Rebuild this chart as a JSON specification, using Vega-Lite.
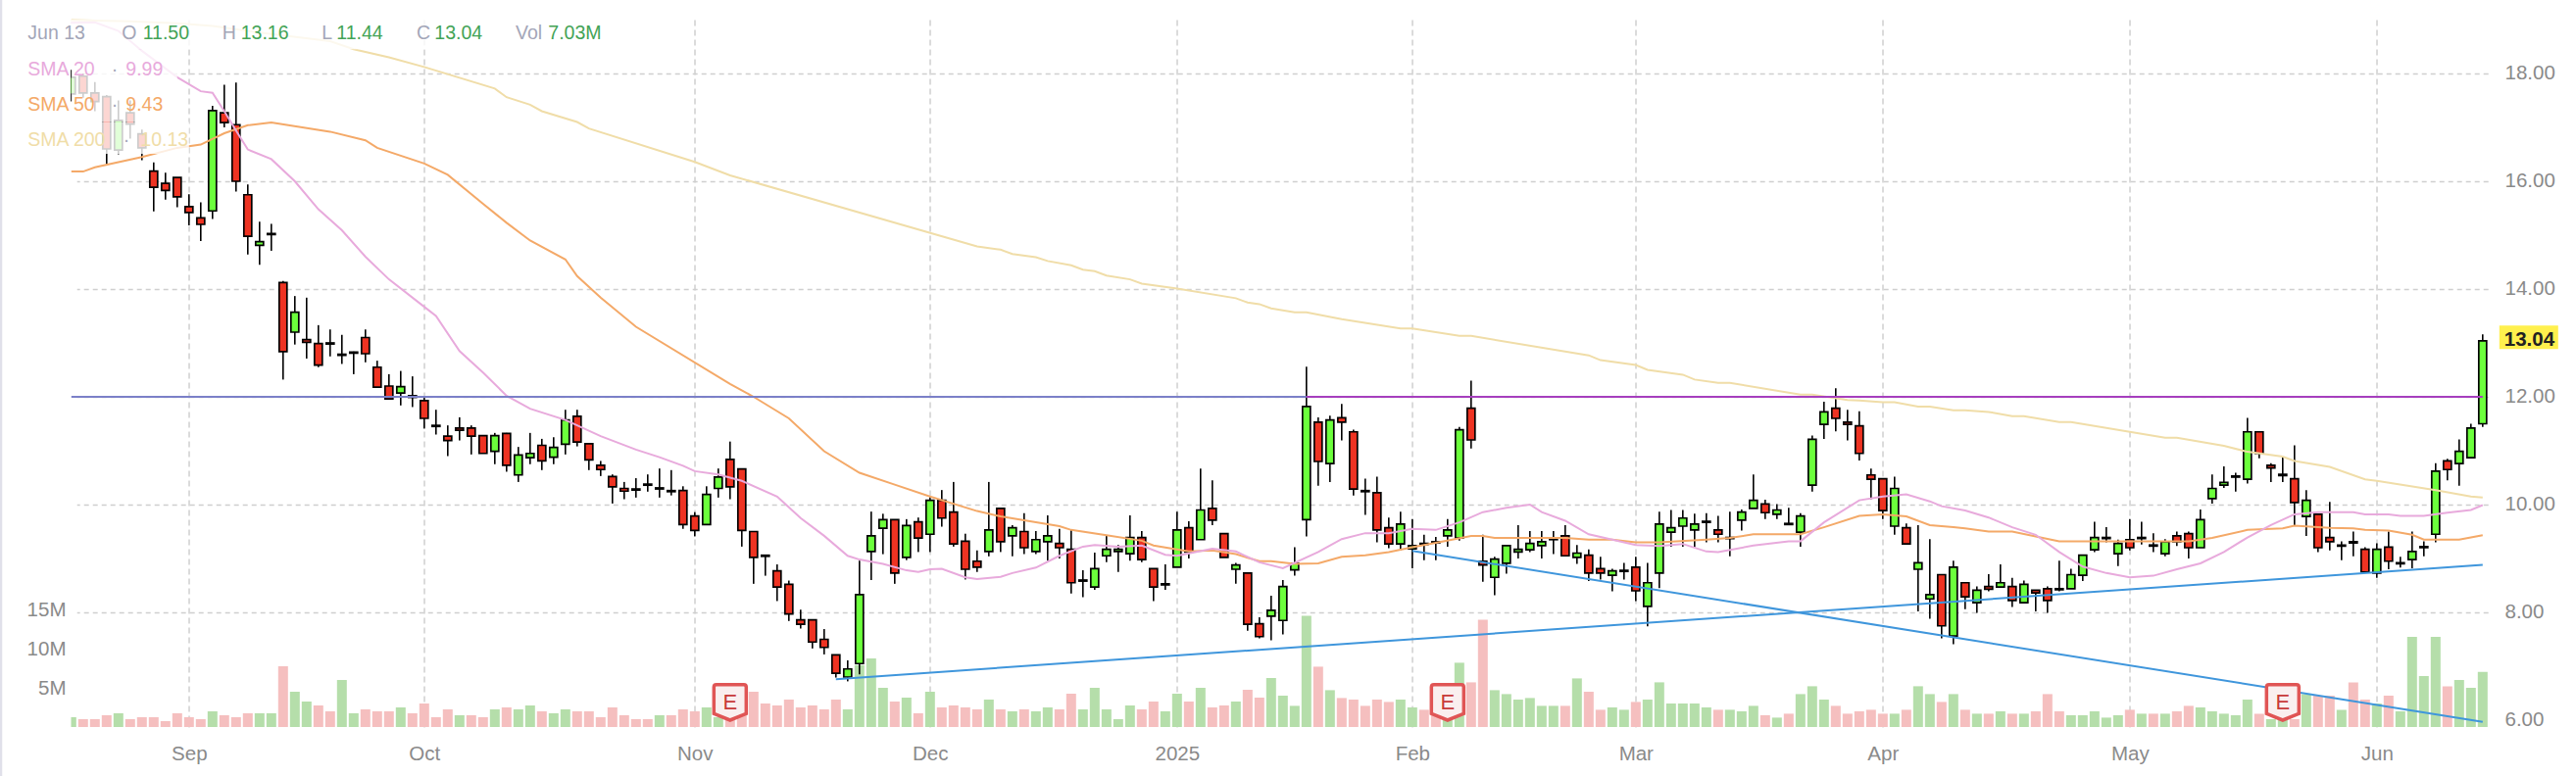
{
"$schema":"https://vega.github.io/schema/vega-lite/v6.json",
"width":2466,"height":722,
"autosize":{"type":"none"},
"padding":{"left":72.5,"top":20,"right":89.5,"bottom":50},
"background":"white",
"config":{"view":{"stroke":null},"font":"Liberation Sans","text":{"align":"left","baseline":"middle","fontSize":19.5}},
"datasets":{
"ohlc":[
{"d":"2024-08-19","o":17.62,"h":18.07,"l":17.48,"c":17.93,"v":1.25,"vd":"u"},
{"d":"2024-08-20","o":17.95,"h":18.0,"l":17.55,"c":17.64,"v":1.0,"vd":"d"},
{"d":"2024-08-21","o":17.64,"h":17.84,"l":17.3,"c":17.48,"v":1.0,"vd":"d"},
{"d":"2024-08-22","o":17.57,"h":17.6,"l":16.32,"c":16.6,"v":1.5,"vd":"d"},
{"d":"2024-08-23","o":16.58,"h":17.5,"l":16.5,"c":17.13,"v":1.75,"vd":"u"},
{"d":"2024-08-26","o":17.27,"h":17.5,"l":16.79,"c":17.06,"v":1.0,"vd":"d"},
{"d":"2024-08-27","o":16.88,"h":16.96,"l":16.39,"c":16.62,"v":1.25,"vd":"d"},
{"d":"2024-08-28","o":16.19,"h":16.35,"l":15.44,"c":15.89,"v":1.25,"vd":"d"},
{"d":"2024-08-29","o":15.96,"h":16.16,"l":15.66,"c":15.83,"v":0.75,"vd":"d"},
{"d":"2024-08-30","o":16.07,"h":16.07,"l":15.52,"c":15.71,"v":1.75,"vd":"d"},
{"d":"2024-09-03","o":15.53,"h":15.76,"l":15.18,"c":15.42,"v":1.25,"vd":"d"},
{"d":"2024-09-04","o":15.32,"h":15.61,"l":14.89,"c":15.2,"v":1.0,"vd":"d"},
{"d":"2024-09-05","o":15.45,"h":17.4,"l":15.3,"c":17.31,"v":2.0,"vd":"u"},
{"d":"2024-09-06","o":17.27,"h":17.79,"l":17.0,"c":17.09,"v":1.5,"vd":"d"},
{"d":"2024-09-09","o":17.05,"h":17.83,"l":15.81,"c":16.0,"v":1.25,"vd":"d"},
{"d":"2024-09-10","o":15.75,"h":15.94,"l":14.64,"c":14.98,"v":1.75,"vd":"d"},
{"d":"2024-09-11","o":14.81,"h":15.25,"l":14.45,"c":14.88,"v":1.75,"vd":"u"},
{"d":"2024-09-12","o":15.01,"h":15.21,"l":14.71,"c":15.03,"v":1.75,"vd":"u"},
{"d":"2024-09-13","o":14.12,"h":14.15,"l":12.32,"c":12.84,"v":7.75,"vd":"d"},
{"d":"2024-09-16","o":13.2,"h":13.87,"l":12.97,"c":13.57,"v":4.5,"vd":"u"},
{"d":"2024-09-17","o":13.06,"h":13.84,"l":12.71,"c":13.01,"v":3.25,"vd":"u"},
{"d":"2024-09-18","o":12.99,"h":13.33,"l":12.55,"c":12.59,"v":2.75,"vd":"d"},
{"d":"2024-09-19","o":12.98,"h":13.25,"l":12.75,"c":13.0,"v":2.0,"vd":"d"},
{"d":"2024-09-20","o":12.77,"h":13.15,"l":12.61,"c":12.79,"v":6.0,"vd":"u"},
{"d":"2024-09-23","o":12.81,"h":12.84,"l":12.42,"c":12.83,"v":1.75,"vd":"u"},
{"d":"2024-09-24","o":13.1,"h":13.25,"l":12.64,"c":12.8,"v":2.25,"vd":"d"},
{"d":"2024-09-25","o":12.55,"h":12.67,"l":12.18,"c":12.18,"v":2.0,"vd":"d"},
{"d":"2024-09-26","o":12.2,"h":12.42,"l":11.96,"c":11.96,"v":2.0,"vd":"d"},
{"d":"2024-09-27","o":12.07,"h":12.48,"l":11.84,"c":12.19,"v":2.5,"vd":"u"},
{"d":"2024-09-30","o":12.02,"h":12.38,"l":11.81,"c":11.99,"v":1.75,"vd":"d"},
{"d":"2024-10-01","o":11.93,"h":12.0,"l":11.41,"c":11.6,"v":3.0,"vd":"d"},
{"d":"2024-10-02","o":11.45,"h":11.76,"l":11.3,"c":11.47,"v":1.25,"vd":"d"},
{"d":"2024-10-03","o":11.27,"h":11.47,"l":10.9,"c":11.19,"v":2.25,"vd":"d"},
{"d":"2024-10-04","o":11.42,"h":11.62,"l":11.19,"c":11.38,"v":1.5,"vd":"u"},
{"d":"2024-10-07","o":11.42,"h":11.47,"l":10.93,"c":11.27,"v":1.5,"vd":"d"},
{"d":"2024-10-08","o":11.28,"h":11.28,"l":10.95,"c":10.95,"v":1.25,"vd":"d"},
{"d":"2024-10-09","o":10.99,"h":11.33,"l":10.75,"c":11.28,"v":2.25,"vd":"u"},
{"d":"2024-10-10","o":11.32,"h":11.33,"l":10.61,"c":10.73,"v":2.5,"vd":"d"},
{"d":"2024-10-11","o":10.55,"h":11.07,"l":10.42,"c":10.92,"v":2.25,"vd":"u"},
{"d":"2024-10-14","o":10.87,"h":11.33,"l":10.75,"c":10.95,"v":2.75,"vd":"u"},
{"d":"2024-10-15","o":11.1,"h":11.22,"l":10.64,"c":10.81,"v":2.0,"vd":"d"},
{"d":"2024-10-16","o":10.88,"h":11.25,"l":10.75,"c":11.06,"v":1.75,"vd":"u"},
{"d":"2024-10-17","o":11.12,"h":11.76,"l":10.93,"c":11.57,"v":2.25,"vd":"u"},
{"d":"2024-10-18","o":11.64,"h":11.76,"l":11.08,"c":11.16,"v":2.0,"vd":"d"},
{"d":"2024-10-21","o":11.13,"h":11.13,"l":10.64,"c":10.83,"v":2.0,"vd":"d"},
{"d":"2024-10-22","o":10.73,"h":10.81,"l":10.53,"c":10.65,"v":1.25,"vd":"d"},
{"d":"2024-10-23","o":10.52,"h":10.56,"l":10.02,"c":10.33,"v":2.5,"vd":"d"},
{"d":"2024-10-24","o":10.3,"h":10.42,"l":10.1,"c":10.25,"v":1.5,"vd":"d"},
{"d":"2024-10-25","o":10.29,"h":10.49,"l":10.13,"c":10.27,"v":1.0,"vd":"d"},
{"d":"2024-10-28","o":10.36,"h":10.56,"l":10.24,"c":10.38,"v":1.0,"vd":"d"},
{"d":"2024-10-29","o":10.29,"h":10.67,"l":10.13,"c":10.31,"v":1.5,"vd":"u"},
{"d":"2024-10-30","o":10.26,"h":10.64,"l":10.17,"c":10.24,"v":1.5,"vd":"d"},
{"d":"2024-10-31","o":10.26,"h":10.34,"l":9.55,"c":9.63,"v":2.25,"vd":"d"},
{"d":"2024-11-01","o":9.79,"h":9.86,"l":9.41,"c":9.52,"v":2.0,"vd":"d"},
{"d":"2024-11-04","o":9.63,"h":10.34,"l":9.63,"c":10.19,"v":2.5,"vd":"u"},
{"d":"2024-11-05","o":10.3,"h":10.67,"l":10.13,"c":10.51,"v":1.25,"vd":"u"},
{"d":"2024-11-06","o":10.84,"h":11.17,"l":10.1,"c":10.33,"v":1.5,"vd":"d"},
{"d":"2024-11-07","o":10.66,"h":10.66,"l":9.22,"c":9.52,"v":1.5,"vd":"d"},
{"d":"2024-11-08","o":9.5,"h":9.5,"l":8.53,"c":9.02,"v":4.5,"vd":"d"},
{"d":"2024-11-11","o":9.06,"h":9.06,"l":8.68,"c":9.04,"v":3.0,"vd":"d"},
{"d":"2024-11-12","o":8.77,"h":8.89,"l":8.21,"c":8.47,"v":2.75,"vd":"d"},
{"d":"2024-11-13","o":8.52,"h":8.59,"l":7.84,"c":7.97,"v":3.5,"vd":"d"},
{"d":"2024-11-14","o":7.86,"h":8.05,"l":7.7,"c":7.78,"v":2.5,"vd":"d"},
{"d":"2024-11-15","o":7.86,"h":7.86,"l":7.33,"c":7.45,"v":2.75,"vd":"d"},
{"d":"2024-11-18","o":7.5,"h":7.69,"l":7.22,"c":7.35,"v":2.25,"vd":"d"},
{"d":"2024-11-19","o":7.21,"h":7.21,"l":6.79,"c":6.87,"v":3.5,"vd":"d"},
{"d":"2024-11-20","o":6.8,"h":7.11,"l":6.72,"c":6.95,"v":2.25,"vd":"u"},
{"d":"2024-11-21","o":7.05,"h":8.96,"l":6.85,"c":8.33,"v":7.9,"vd":"u"},
{"d":"2024-11-22","o":9.13,"h":9.87,"l":8.6,"c":9.42,"v":8.75,"vd":"u"},
{"d":"2024-11-25","o":9.56,"h":9.83,"l":9.08,"c":9.72,"v":5.0,"vd":"u"},
{"d":"2024-11-26","o":9.72,"h":9.72,"l":8.53,"c":8.73,"v":3.25,"vd":"d"},
{"d":"2024-11-27","o":9.02,"h":9.73,"l":8.97,"c":9.61,"v":3.75,"vd":"u"},
{"d":"2024-11-29","o":9.68,"h":9.76,"l":9.12,"c":9.38,"v":1.75,"vd":"d"},
{"d":"2024-12-02","o":9.45,"h":10.14,"l":9.12,"c":10.08,"v":4.5,"vd":"u"},
{"d":"2024-12-03","o":10.08,"h":10.27,"l":9.59,"c":9.75,"v":2.5,"vd":"d"},
{"d":"2024-12-04","o":9.86,"h":10.42,"l":9.22,"c":9.27,"v":2.75,"vd":"d"},
{"d":"2024-12-05","o":9.32,"h":9.46,"l":8.61,"c":8.8,"v":2.5,"vd":"d"},
{"d":"2024-12-06","o":8.95,"h":9.15,"l":8.75,"c":8.84,"v":2.25,"vd":"d"},
{"d":"2024-12-09","o":9.13,"h":10.42,"l":9.04,"c":9.53,"v":3.5,"vd":"u"},
{"d":"2024-12-10","o":9.93,"h":9.93,"l":9.12,"c":9.31,"v":2.25,"vd":"d"},
{"d":"2024-12-11","o":9.42,"h":9.62,"l":9.04,"c":9.57,"v":2.0,"vd":"u"},
{"d":"2024-12-12","o":9.5,"h":9.84,"l":9.08,"c":9.2,"v":2.25,"vd":"d"},
{"d":"2024-12-13","o":9.13,"h":9.51,"l":9.08,"c":9.35,"v":2.0,"vd":"u"},
{"d":"2024-12-16","o":9.31,"h":9.8,"l":8.96,"c":9.42,"v":2.5,"vd":"u"},
{"d":"2024-12-17","o":9.28,"h":9.55,"l":9.0,"c":9.2,"v":2.25,"vd":"d"},
{"d":"2024-12-18","o":9.17,"h":9.53,"l":8.35,"c":8.55,"v":4.25,"vd":"d"},
{"d":"2024-12-19","o":8.58,"h":8.78,"l":8.28,"c":8.6,"v":2.25,"vd":"u"},
{"d":"2024-12-20","o":8.47,"h":9.11,"l":8.42,"c":8.81,"v":5.0,"vd":"u"},
{"d":"2024-12-23","o":9.05,"h":9.42,"l":8.93,"c":9.17,"v":2.25,"vd":"u"},
{"d":"2024-12-24","o":9.13,"h":9.25,"l":8.75,"c":9.17,"v":1.0,"vd":"u"},
{"d":"2024-12-26","o":9.09,"h":9.8,"l":8.96,"c":9.39,"v":2.75,"vd":"u"},
{"d":"2024-12-27","o":9.39,"h":9.51,"l":8.93,"c":8.98,"v":2.25,"vd":"d"},
{"d":"2024-12-30","o":8.81,"h":8.81,"l":8.21,"c":8.47,"v":3.25,"vd":"d"},
{"d":"2024-12-31","o":8.51,"h":8.89,"l":8.42,"c":8.53,"v":2.0,"vd":"u"},
{"d":"2025-01-02","o":8.84,"h":9.87,"l":8.84,"c":9.53,"v":4.25,"vd":"u"},
{"d":"2025-01-03","o":9.57,"h":9.69,"l":9.0,"c":9.12,"v":3.25,"vd":"d"},
{"d":"2025-01-06","o":9.35,"h":10.67,"l":9.35,"c":9.9,"v":5.0,"vd":"u"},
{"d":"2025-01-07","o":9.93,"h":10.45,"l":9.62,"c":9.71,"v":2.5,"vd":"d"},
{"d":"2025-01-08","o":9.46,"h":9.46,"l":9.02,"c":9.02,"v":2.75,"vd":"d"},
{"d":"2025-01-10","o":8.8,"h":8.92,"l":8.53,"c":8.88,"v":3.25,"vd":"u"},
{"d":"2025-01-13","o":8.73,"h":8.73,"l":7.66,"c":7.78,"v":4.75,"vd":"d"},
{"d":"2025-01-14","o":7.79,"h":7.91,"l":7.52,"c":7.55,"v":3.75,"vd":"d"},
{"d":"2025-01-15","o":7.93,"h":8.31,"l":7.48,"c":8.04,"v":6.25,"vd":"u"},
{"d":"2025-01-16","o":7.85,"h":8.6,"l":7.59,"c":8.48,"v":4.0,"vd":"u"},
{"d":"2025-01-17","o":8.79,"h":9.21,"l":8.68,"c":8.91,"v":2.7,"vd":"u"},
{"d":"2025-01-21","o":9.72,"h":12.56,"l":9.41,"c":11.82,"v":14.2,"vd":"u"},
{"d":"2025-01-22","o":11.53,"h":11.62,"l":10.35,"c":10.8,"v":7.7,"vd":"d"},
{"d":"2025-01-23","o":10.76,"h":11.65,"l":10.42,"c":11.57,"v":4.7,"vd":"u"},
{"d":"2025-01-24","o":11.61,"h":11.87,"l":11.19,"c":11.53,"v":3.7,"vd":"d"},
{"d":"2025-01-27","o":11.35,"h":11.39,"l":10.17,"c":10.29,"v":3.5,"vd":"d"},
{"d":"2025-01-28","o":10.24,"h":10.48,"l":9.81,"c":10.26,"v":2.7,"vd":"d"},
{"d":"2025-01-29","o":10.22,"h":10.52,"l":9.3,"c":9.53,"v":3.5,"vd":"d"},
{"d":"2025-01-30","o":9.57,"h":9.76,"l":9.19,"c":9.27,"v":3.2,"vd":"d"},
{"d":"2025-01-31","o":9.27,"h":9.87,"l":9.15,"c":9.64,"v":3.5,"vd":"u"},
{"d":"2025-02-03","o":9.18,"h":9.73,"l":8.82,"c":9.24,"v":2.5,"vd":"u"},
{"d":"2025-02-04","o":9.26,"h":9.44,"l":8.97,"c":9.28,"v":2.2,"vd":"d"},
{"d":"2025-02-05","o":9.29,"h":9.4,"l":8.97,"c":9.31,"v":1.7,"vd":"d"},
{"d":"2025-02-06","o":9.42,"h":9.73,"l":9.22,"c":9.53,"v":1.2,"vd":"u"},
{"d":"2025-02-07","o":9.38,"h":11.44,"l":9.33,"c":11.39,"v":8.2,"vd":"u"},
{"d":"2025-02-10","o":11.79,"h":12.3,"l":11.04,"c":11.2,"v":5.7,"vd":"d"},
{"d":"2025-02-11","o":8.95,"h":9.44,"l":8.57,"c":8.88,"v":13.7,"vd":"d"},
{"d":"2025-02-12","o":8.65,"h":9.03,"l":8.32,"c":8.99,"v":4.7,"vd":"u"},
{"d":"2025-02-13","o":8.91,"h":9.24,"l":8.72,"c":9.24,"v":4.2,"vd":"u"},
{"d":"2025-02-14","o":9.12,"h":9.62,"l":9.0,"c":9.17,"v":3.5,"vd":"u"},
{"d":"2025-02-18","o":9.16,"h":9.51,"l":9.12,"c":9.28,"v":3.7,"vd":"u"},
{"d":"2025-02-19","o":9.24,"h":9.51,"l":9.0,"c":9.31,"v":2.7,"vd":"u"},
{"d":"2025-02-20","o":9.35,"h":9.51,"l":9.08,"c":9.37,"v":2.7,"vd":"u"},
{"d":"2025-02-21","o":9.42,"h":9.62,"l":9.05,"c":9.05,"v":2.7,"vd":"d"},
{"d":"2025-02-24","o":9.02,"h":9.25,"l":8.9,"c":9.1,"v":6.2,"vd":"u"},
{"d":"2025-02-25","o":9.06,"h":9.17,"l":8.58,"c":8.73,"v":4.5,"vd":"d"},
{"d":"2025-02-26","o":8.81,"h":9.03,"l":8.61,"c":8.73,"v":2.2,"vd":"d"},
{"d":"2025-02-27","o":8.69,"h":8.81,"l":8.39,"c":8.77,"v":2.5,"vd":"u"},
{"d":"2025-02-28","o":8.76,"h":8.92,"l":8.61,"c":8.78,"v":2.2,"vd":"u"},
{"d":"2025-03-03","o":8.84,"h":9.03,"l":8.21,"c":8.4,"v":3.2,"vd":"d"},
{"d":"2025-03-04","o":8.11,"h":8.92,"l":7.74,"c":8.55,"v":3.5,"vd":"u"},
{"d":"2025-03-05","o":8.73,"h":9.87,"l":8.45,"c":9.64,"v":5.7,"vd":"u"},
{"d":"2025-03-06","o":9.49,"h":9.9,"l":9.22,"c":9.57,"v":3.0,"vd":"u"},
{"d":"2025-03-07","o":9.6,"h":9.9,"l":9.22,"c":9.75,"v":3.0,"vd":"u"},
{"d":"2025-03-10","o":9.53,"h":9.83,"l":9.21,"c":9.64,"v":3.0,"vd":"u"},
{"d":"2025-03-11","o":9.67,"h":9.84,"l":9.3,"c":9.69,"v":2.5,"vd":"u"},
{"d":"2025-03-12","o":9.53,"h":9.79,"l":9.3,"c":9.45,"v":2.2,"vd":"d"},
{"d":"2025-03-13","o":9.37,"h":9.87,"l":9.04,"c":9.39,"v":2.2,"vd":"u"},
{"d":"2025-03-14","o":9.71,"h":9.91,"l":9.52,"c":9.86,"v":2.0,"vd":"u"},
{"d":"2025-03-17","o":9.93,"h":10.56,"l":9.93,"c":10.08,"v":2.7,"vd":"u"},
{"d":"2025-03-18","o":10.01,"h":10.09,"l":9.73,"c":9.85,"v":1.5,"vd":"d"},
{"d":"2025-03-19","o":9.82,"h":10.01,"l":9.73,"c":9.9,"v":1.2,"vd":"u"},
{"d":"2025-03-20","o":9.65,"h":9.94,"l":9.64,"c":9.63,"v":1.7,"vd":"d"},
{"d":"2025-03-21","o":9.49,"h":9.84,"l":9.22,"c":9.79,"v":4.2,"vd":"u"},
{"d":"2025-03-24","o":10.36,"h":11.28,"l":10.24,"c":11.21,"v":5.2,"vd":"u"},
{"d":"2025-03-25","o":11.49,"h":11.91,"l":11.22,"c":11.72,"v":3.5,"vd":"u"},
{"d":"2025-03-26","o":11.79,"h":12.16,"l":11.36,"c":11.6,"v":2.7,"vd":"d"},
{"d":"2025-03-27","o":11.53,"h":11.76,"l":11.19,"c":11.49,"v":1.7,"vd":"d"},
{"d":"2025-03-28","o":11.46,"h":11.73,"l":10.82,"c":10.95,"v":2.0,"vd":"d"},
{"d":"2025-03-31","o":10.55,"h":10.67,"l":10.1,"c":10.47,"v":2.2,"vd":"d"},
{"d":"2025-04-01","o":10.48,"h":10.48,"l":9.73,"c":9.89,"v":1.7,"vd":"d"},
{"d":"2025-04-02","o":9.6,"h":10.52,"l":9.44,"c":10.3,"v":1.7,"vd":"u"},
{"d":"2025-04-03","o":9.57,"h":9.65,"l":9.27,"c":9.27,"v":2.2,"vd":"d"},
{"d":"2025-04-04","o":8.8,"h":9.62,"l":8.02,"c":8.92,"v":5.2,"vd":"u"},
{"d":"2025-04-07","o":8.25,"h":9.36,"l":7.88,"c":8.33,"v":4.2,"vd":"u"},
{"d":"2025-04-08","o":8.7,"h":8.7,"l":7.52,"c":7.75,"v":3.2,"vd":"d"},
{"d":"2025-04-09","o":7.56,"h":8.96,"l":7.41,"c":8.84,"v":4.2,"vd":"u"},
{"d":"2025-04-10","o":8.55,"h":8.55,"l":8.06,"c":8.29,"v":2.2,"vd":"d"},
{"d":"2025-04-11","o":8.18,"h":8.48,"l":7.99,"c":8.41,"v":1.7,"vd":"u"},
{"d":"2025-04-14","o":8.48,"h":8.71,"l":8.39,"c":8.43,"v":1.7,"vd":"d"},
{"d":"2025-04-15","o":8.47,"h":8.89,"l":8.47,"c":8.55,"v":2.0,"vd":"u"},
{"d":"2025-04-16","o":8.48,"h":8.64,"l":8.1,"c":8.22,"v":1.7,"vd":"d"},
{"d":"2025-04-17","o":8.18,"h":8.59,"l":8.18,"c":8.52,"v":1.7,"vd":"u"},
{"d":"2025-04-21","o":8.41,"h":8.41,"l":8.02,"c":8.36,"v":2.0,"vd":"d"},
{"d":"2025-04-22","o":8.44,"h":8.48,"l":7.99,"c":8.22,"v":4.2,"vd":"d"},
{"d":"2025-04-23","o":8.42,"h":8.96,"l":8.39,"c":8.44,"v":2.0,"vd":"d"},
{"d":"2025-04-24","o":8.44,"h":8.81,"l":8.44,"c":8.7,"v":1.5,"vd":"u"},
{"d":"2025-04-25","o":8.69,"h":9.06,"l":8.58,"c":9.06,"v":1.5,"vd":"u"},
{"d":"2025-04-28","o":9.16,"h":9.68,"l":9.12,"c":9.39,"v":2.0,"vd":"u"},
{"d":"2025-04-29","o":9.37,"h":9.58,"l":9.3,"c":9.39,"v":1.2,"vd":"u"},
{"d":"2025-04-30","o":9.09,"h":9.35,"l":8.86,"c":9.28,"v":1.5,"vd":"u"},
{"d":"2025-05-01","o":9.35,"h":9.73,"l":9.15,"c":9.2,"v":2.2,"vd":"d"},
{"d":"2025-05-02","o":9.37,"h":9.68,"l":9.26,"c":9.39,"v":1.7,"vd":"u"},
{"d":"2025-05-05","o":9.25,"h":9.47,"l":9.12,"c":9.23,"v":1.7,"vd":"d"},
{"d":"2025-05-06","o":9.09,"h":9.36,"l":9.04,"c":9.31,"v":1.7,"vd":"u"},
{"d":"2025-05-07","o":9.42,"h":9.5,"l":9.23,"c":9.31,"v":2.0,"vd":"d"},
{"d":"2025-05-08","o":9.46,"h":9.5,"l":9.0,"c":9.2,"v":2.7,"vd":"d"},
{"d":"2025-05-09","o":9.2,"h":9.91,"l":9.2,"c":9.72,"v":2.5,"vd":"u"},
{"d":"2025-05-12","o":10.11,"h":10.56,"l":10.02,"c":10.3,"v":2.0,"vd":"u"},
{"d":"2025-05-13","o":10.36,"h":10.71,"l":10.31,"c":10.41,"v":1.7,"vd":"u"},
{"d":"2025-05-14","o":10.51,"h":10.59,"l":10.24,"c":10.53,"v":1.5,"vd":"u"},
{"d":"2025-05-15","o":10.47,"h":11.61,"l":10.39,"c":11.35,"v":3.5,"vd":"u"},
{"d":"2025-05-16","o":11.35,"h":11.35,"l":10.86,"c":10.95,"v":1.7,"vd":"d"},
{"d":"2025-05-19","o":10.73,"h":10.77,"l":10.42,"c":10.68,"v":1.0,"vd":"u"},
{"d":"2025-05-20","o":10.54,"h":10.89,"l":10.42,"c":10.56,"v":1.0,"vd":"u"},
{"d":"2025-05-21","o":10.48,"h":11.1,"l":9.62,"c":10.04,"v":1.0,"vd":"d"},
{"d":"2025-05-22","o":9.78,"h":10.27,"l":9.42,"c":10.08,"v":4.2,"vd":"u"},
{"d":"2025-05-23","o":9.82,"h":9.82,"l":9.12,"c":9.2,"v":4.0,"vd":"d"},
{"d":"2025-05-27","o":9.39,"h":10.05,"l":9.15,"c":9.31,"v":4.0,"vd":"d"},
{"d":"2025-05-28","o":9.23,"h":9.32,"l":8.97,"c":9.25,"v":2.2,"vd":"u"},
{"d":"2025-05-29","o":9.29,"h":9.5,"l":9.04,"c":9.31,"v":5.7,"vd":"d"},
{"d":"2025-05-30","o":9.17,"h":9.21,"l":8.75,"c":8.75,"v":3.5,"vd":"d"},
{"d":"2025-06-02","o":8.73,"h":9.28,"l":8.64,"c":9.17,"v":3.0,"vd":"u"},
{"d":"2025-06-03","o":9.21,"h":9.5,"l":8.8,"c":8.95,"v":4.0,"vd":"d"},
{"d":"2025-06-04","o":8.9,"h":9.03,"l":8.83,"c":8.92,"v":2.0,"vd":"u"},
{"d":"2025-06-05","o":8.98,"h":9.5,"l":8.82,"c":9.13,"v":11.5,"vd":"u"},
{"d":"2025-06-06","o":9.2,"h":9.32,"l":9.04,"c":9.22,"v":6.5,"vd":"u"},
{"d":"2025-06-09","o":9.45,"h":10.77,"l":9.3,"c":10.62,"v":11.5,"vd":"u"},
{"d":"2025-06-10","o":10.81,"h":10.85,"l":10.45,"c":10.65,"v":5.2,"vd":"d"},
{"d":"2025-06-11","o":10.76,"h":11.21,"l":10.35,"c":10.99,"v":6.0,"vd":"u"},
{"d":"2025-06-12","o":10.87,"h":11.5,"l":10.87,"c":11.42,"v":5.0,"vd":"u"},
{"d":"2025-06-13","o":11.5,"h":13.16,"l":11.44,"c":13.04,"v":7.03,"vd":"u"}
],
"sma":[
{"d":"2024-08-19","s":"SMA 200","p":18.99},{"d":"2024-08-26","s":"SMA 200","p":18.97},{"d":"2024-08-30","s":"SMA 200","p":18.93},{"d":"2024-09-05","s":"SMA 200","p":18.88},{"d":"2024-09-11","s":"SMA 200","p":18.76},{"d":"2024-09-19","s":"SMA 200","p":18.6},{"d":"2024-09-23","s":"SMA 200","p":18.45},{"d":"2024-09-26","s":"SMA 200","p":18.3},{"d":"2024-10-01","s":"SMA 200","p":18.12},{"d":"2024-10-09","s":"SMA 200","p":17.72},{"d":"2024-10-10","s":"SMA 200","p":17.56},{"d":"2024-10-14","s":"SMA 200","p":17.42},{"d":"2024-10-15","s":"SMA 200","p":17.3},{"d":"2024-10-18","s":"SMA 200","p":17.1},{"d":"2024-10-21","s":"SMA 200","p":16.98},{"d":"2024-11-01","s":"SMA 200","p":16.36},{"d":"2024-11-06","s":"SMA 200","p":16.11},{"d":"2024-12-06","s":"SMA 200","p":14.79},{"d":"2024-12-10","s":"SMA 200","p":14.73},{"d":"2024-12-11","s":"SMA 200","p":14.65},{"d":"2024-12-13","s":"SMA 200","p":14.59},{"d":"2024-12-16","s":"SMA 200","p":14.52},{"d":"2024-12-18","s":"SMA 200","p":14.44},{"d":"2024-12-19","s":"SMA 200","p":14.36},{"d":"2024-12-20","s":"SMA 200","p":14.33},{"d":"2024-12-23","s":"SMA 200","p":14.25},{"d":"2024-12-26","s":"SMA 200","p":14.18},{"d":"2024-12-27","s":"SMA 200","p":14.1},{"d":"2025-01-02","s":"SMA 200","p":14.01},{"d":"2025-01-10","s":"SMA 200","p":13.83},{"d":"2025-01-13","s":"SMA 200","p":13.75},{"d":"2025-01-14","s":"SMA 200","p":13.72},{"d":"2025-01-15","s":"SMA 200","p":13.64},{"d":"2025-01-17","s":"SMA 200","p":13.57},{"d":"2025-01-21","s":"SMA 200","p":13.57},{"d":"2025-01-24","s":"SMA 200","p":13.44},{"d":"2025-01-31","s":"SMA 200","p":13.27},{"d":"2025-02-03","s":"SMA 200","p":13.27},{"d":"2025-02-07","s":"SMA 200","p":13.13},{"d":"2025-02-10","s":"SMA 200","p":13.13},{"d":"2025-02-25","s":"SMA 200","p":12.77},{"d":"2025-02-26","s":"SMA 200","p":12.68},{"d":"2025-03-03","s":"SMA 200","p":12.59},{"d":"2025-03-04","s":"SMA 200","p":12.5},{"d":"2025-03-07","s":"SMA 200","p":12.41},{"d":"2025-03-10","s":"SMA 200","p":12.32},{"d":"2025-03-12","s":"SMA 200","p":12.26},{"d":"2025-03-13","s":"SMA 200","p":12.26},{"d":"2025-03-21","s":"SMA 200","p":12.04},{"d":"2025-03-24","s":"SMA 200","p":12.04},{"d":"2025-03-27","s":"SMA 200","p":11.94},{"d":"2025-03-28","s":"SMA 200","p":11.93},{"d":"2025-04-01","s":"SMA 200","p":11.9},{"d":"2025-04-02","s":"SMA 200","p":11.9},{"d":"2025-04-04","s":"SMA 200","p":11.82},{"d":"2025-04-07","s":"SMA 200","p":11.82},{"d":"2025-04-09","s":"SMA 200","p":11.75},{"d":"2025-04-10","s":"SMA 200","p":11.75},{"d":"2025-04-14","s":"SMA 200","p":11.72},{"d":"2025-04-16","s":"SMA 200","p":11.64},{"d":"2025-04-17","s":"SMA 200","p":11.64},{"d":"2025-04-23","s":"SMA 200","p":11.53},{"d":"2025-04-24","s":"SMA 200","p":11.53},{"d":"2025-05-01","s":"SMA 200","p":11.35},{"d":"2025-05-06","s":"SMA 200","p":11.24},{"d":"2025-05-07","s":"SMA 200","p":11.24},{"d":"2025-05-13","s":"SMA 200","p":11.09},{"d":"2025-05-15","s":"SMA 200","p":10.98},{"d":"2025-05-20","s":"SMA 200","p":10.89},{"d":"2025-05-21","s":"SMA 200","p":10.81},{"d":"2025-05-27","s":"SMA 200","p":10.7},{"d":"2025-05-30","s":"SMA 200","p":10.47},{"d":"2025-06-02","s":"SMA 200","p":10.44},{"d":"2025-06-09","s":"SMA 200","p":10.27},{"d":"2025-06-12","s":"SMA 200","p":10.15},{"d":"2025-06-13","s":"SMA 200","p":10.13},
{"d":"2024-08-19","s":"SMA 50","p":16.18},{"d":"2024-08-20","s":"SMA 50","p":16.18},{"d":"2024-08-21","s":"SMA 50","p":16.26},{"d":"2024-08-27","s":"SMA 50","p":16.45},{"d":"2024-08-30","s":"SMA 50","p":16.62},{"d":"2024-09-04","s":"SMA 50","p":16.68},{"d":"2024-09-06","s":"SMA 50","p":16.89},{"d":"2024-09-10","s":"SMA 50","p":17.04},{"d":"2024-09-12","s":"SMA 50","p":17.09},{"d":"2024-09-19","s":"SMA 50","p":16.92},{"d":"2024-09-24","s":"SMA 50","p":16.76},{"d":"2024-09-25","s":"SMA 50","p":16.62},{"d":"2024-10-01","s":"SMA 50","p":16.33},{"d":"2024-10-03","s":"SMA 50","p":16.12},{"d":"2024-10-08","s":"SMA 50","p":15.58},{"d":"2024-10-10","s":"SMA 50","p":15.23},{"d":"2024-10-14","s":"SMA 50","p":14.9},{"d":"2024-10-17","s":"SMA 50","p":14.55},{"d":"2024-10-18","s":"SMA 50","p":14.24},{"d":"2024-10-22","s":"SMA 50","p":13.84},{"d":"2024-10-25","s":"SMA 50","p":13.3},{"d":"2024-11-06","s":"SMA 50","p":12.24},{"d":"2024-11-08","s":"SMA 50","p":12.0},{"d":"2024-11-13","s":"SMA 50","p":11.6},{"d":"2024-11-18","s":"SMA 50","p":10.99},{"d":"2024-11-21","s":"SMA 50","p":10.59},{"d":"2024-11-26","s":"SMA 50","p":10.37},{"d":"2024-12-02","s":"SMA 50","p":10.15},{"d":"2024-12-06","s":"SMA 50","p":9.88},{"d":"2024-12-10","s":"SMA 50","p":9.78},{"d":"2024-12-17","s":"SMA 50","p":9.6},{"d":"2024-12-18","s":"SMA 50","p":9.53},{"d":"2024-12-23","s":"SMA 50","p":9.43},{"d":"2024-12-27","s":"SMA 50","p":9.33},{"d":"2024-12-30","s":"SMA 50","p":9.24},{"d":"2025-01-03","s":"SMA 50","p":9.13},{"d":"2025-01-07","s":"SMA 50","p":9.15},{"d":"2025-01-10","s":"SMA 50","p":9.08},{"d":"2025-01-14","s":"SMA 50","p":8.95},{"d":"2025-01-15","s":"SMA 50","p":8.95},{"d":"2025-01-17","s":"SMA 50","p":8.9},{"d":"2025-01-22","s":"SMA 50","p":8.91},{"d":"2025-01-24","s":"SMA 50","p":9.03},{"d":"2025-01-28","s":"SMA 50","p":9.06},{"d":"2025-01-30","s":"SMA 50","p":9.12},{"d":"2025-02-03","s":"SMA 50","p":9.21},{"d":"2025-02-05","s":"SMA 50","p":9.29},{"d":"2025-02-10","s":"SMA 50","p":9.42},{"d":"2025-02-11","s":"SMA 50","p":9.42},{"d":"2025-02-12","s":"SMA 50","p":9.38},{"d":"2025-02-21","s":"SMA 50","p":9.38},{"d":"2025-02-25","s":"SMA 50","p":9.35},{"d":"2025-02-27","s":"SMA 50","p":9.35},{"d":"2025-03-03","s":"SMA 50","p":9.3},{"d":"2025-03-05","s":"SMA 50","p":9.3},{"d":"2025-03-11","s":"SMA 50","p":9.35},{"d":"2025-03-13","s":"SMA 50","p":9.38},{"d":"2025-03-17","s":"SMA 50","p":9.45},{"d":"2025-03-21","s":"SMA 50","p":9.45},{"d":"2025-03-25","s":"SMA 50","p":9.58},{"d":"2025-03-28","s":"SMA 50","p":9.79},{"d":"2025-04-01","s":"SMA 50","p":9.82},{"d":"2025-04-03","s":"SMA 50","p":9.78},{"d":"2025-04-07","s":"SMA 50","p":9.62},{"d":"2025-04-09","s":"SMA 50","p":9.58},{"d":"2025-04-10","s":"SMA 50","p":9.56},{"d":"2025-04-14","s":"SMA 50","p":9.5},{"d":"2025-04-16","s":"SMA 50","p":9.5},{"d":"2025-04-21","s":"SMA 50","p":9.41},{"d":"2025-04-23","s":"SMA 50","p":9.32},{"d":"2025-04-29","s":"SMA 50","p":9.32},{"d":"2025-05-08","s":"SMA 50","p":9.32},{"d":"2025-05-12","s":"SMA 50","p":9.38},{"d":"2025-05-15","s":"SMA 50","p":9.53},{"d":"2025-05-20","s":"SMA 50","p":9.56},{"d":"2025-05-21","s":"SMA 50","p":9.61},{"d":"2025-05-27","s":"SMA 50","p":9.57},{"d":"2025-05-29","s":"SMA 50","p":9.56},{"d":"2025-05-30","s":"SMA 50","p":9.53},{"d":"2025-06-03","s":"SMA 50","p":9.52},{"d":"2025-06-05","s":"SMA 50","p":9.44},{"d":"2025-06-06","s":"SMA 50","p":9.35},{"d":"2025-06-11","s":"SMA 50","p":9.35},{"d":"2025-06-13","s":"SMA 50","p":9.43},
{"d":"2024-08-19","s":"SMA 20","p":18.94},{"d":"2024-08-21","s":"SMA 20","p":18.95},{"d":"2024-08-23","s":"SMA 20","p":18.79},{"d":"2024-08-27","s":"SMA 20","p":18.42},{"d":"2024-08-30","s":"SMA 20","p":17.93},{"d":"2024-09-04","s":"SMA 20","p":17.67},{"d":"2024-09-05","s":"SMA 20","p":17.64},{"d":"2024-09-06","s":"SMA 20","p":17.3},{"d":"2024-09-09","s":"SMA 20","p":16.94},{"d":"2024-09-10","s":"SMA 20","p":16.59},{"d":"2024-09-12","s":"SMA 20","p":16.41},{"d":"2024-09-16","s":"SMA 20","p":16.0},{"d":"2024-09-18","s":"SMA 20","p":15.48},{"d":"2024-09-20","s":"SMA 20","p":15.09},{"d":"2024-09-24","s":"SMA 20","p":14.6},{"d":"2024-09-26","s":"SMA 20","p":14.18},{"d":"2024-10-01","s":"SMA 20","p":13.67},{"d":"2024-10-02","s":"SMA 20","p":13.5},{"d":"2024-10-04","s":"SMA 20","p":12.85},{"d":"2024-10-08","s":"SMA 20","p":12.45},{"d":"2024-10-10","s":"SMA 20","p":12.02},{"d":"2024-10-14","s":"SMA 20","p":11.78},{"d":"2024-10-17","s":"SMA 20","p":11.57},{"d":"2024-10-22","s":"SMA 20","p":11.27},{"d":"2024-10-25","s":"SMA 20","p":11.02},{"d":"2024-10-29","s":"SMA 20","p":10.88},{"d":"2024-10-31","s":"SMA 20","p":10.72},{"d":"2024-11-01","s":"SMA 20","p":10.62},{"d":"2024-11-05","s":"SMA 20","p":10.56},{"d":"2024-11-07","s":"SMA 20","p":10.44},{"d":"2024-11-12","s":"SMA 20","p":10.15},{"d":"2024-11-14","s":"SMA 20","p":9.75},{"d":"2024-11-18","s":"SMA 20","p":9.42},{"d":"2024-11-20","s":"SMA 20","p":9.05},{"d":"2024-11-21","s":"SMA 20","p":8.98},{"d":"2024-11-25","s":"SMA 20","p":8.9},{"d":"2024-11-27","s":"SMA 20","p":8.78},{"d":"2024-11-29","s":"SMA 20","p":8.75},{"d":"2024-12-02","s":"SMA 20","p":8.8},{"d":"2024-12-03","s":"SMA 20","p":8.81},{"d":"2024-12-05","s":"SMA 20","p":8.65},{"d":"2024-12-06","s":"SMA 20","p":8.62},{"d":"2024-12-10","s":"SMA 20","p":8.66},{"d":"2024-12-11","s":"SMA 20","p":8.73},{"d":"2024-12-13","s":"SMA 20","p":8.83},{"d":"2024-12-17","s":"SMA 20","p":9.05},{"d":"2024-12-19","s":"SMA 20","p":9.22},{"d":"2024-12-20","s":"SMA 20","p":9.25},{"d":"2024-12-24","s":"SMA 20","p":9.22},{"d":"2024-12-27","s":"SMA 20","p":9.24},{"d":"2024-12-31","s":"SMA 20","p":9.07},{"d":"2025-01-02","s":"SMA 20","p":9.05},{"d":"2025-01-07","s":"SMA 20","p":9.18},{"d":"2025-01-10","s":"SMA 20","p":9.13},{"d":"2025-01-14","s":"SMA 20","p":8.93},{"d":"2025-01-16","s":"SMA 20","p":8.82},{"d":"2025-01-22","s":"SMA 20","p":9.12},{"d":"2025-01-24","s":"SMA 20","p":9.36},{"d":"2025-01-28","s":"SMA 20","p":9.47},{"d":"2025-01-30","s":"SMA 20","p":9.47},{"d":"2025-02-03","s":"SMA 20","p":9.55},{"d":"2025-02-05","s":"SMA 20","p":9.53},{"d":"2025-02-07","s":"SMA 20","p":9.67},{"d":"2025-02-11","s":"SMA 20","p":9.86},{"d":"2025-02-13","s":"SMA 20","p":9.94},{"d":"2025-02-18","s":"SMA 20","p":10.0},{"d":"2025-02-19","s":"SMA 20","p":9.86},{"d":"2025-02-21","s":"SMA 20","p":9.7},{"d":"2025-02-25","s":"SMA 20","p":9.45},{"d":"2025-02-27","s":"SMA 20","p":9.35},{"d":"2025-03-03","s":"SMA 20","p":9.25},{"d":"2025-03-05","s":"SMA 20","p":9.23},{"d":"2025-03-07","s":"SMA 20","p":9.27},{"d":"2025-03-11","s":"SMA 20","p":9.13},{"d":"2025-03-12","s":"SMA 20","p":9.12},{"d":"2025-03-17","s":"SMA 20","p":9.24},{"d":"2025-03-20","s":"SMA 20","p":9.32},{"d":"2025-03-21","s":"SMA 20","p":9.32},{"d":"2025-03-25","s":"SMA 20","p":9.67},{"d":"2025-03-28","s":"SMA 20","p":10.08},{"d":"2025-04-01","s":"SMA 20","p":10.15},{"d":"2025-04-03","s":"SMA 20","p":10.19},{"d":"2025-04-07","s":"SMA 20","p":10.06},{"d":"2025-04-08","s":"SMA 20","p":9.97},{"d":"2025-04-10","s":"SMA 20","p":9.89},{"d":"2025-04-14","s":"SMA 20","p":9.76},{"d":"2025-04-16","s":"SMA 20","p":9.58},{"d":"2025-04-21","s":"SMA 20","p":9.44},{"d":"2025-04-23","s":"SMA 20","p":9.12},{"d":"2025-04-25","s":"SMA 20","p":8.85},{"d":"2025-04-29","s":"SMA 20","p":8.73},{"d":"2025-05-01","s":"SMA 20","p":8.65},{"d":"2025-05-05","s":"SMA 20","p":8.68},{"d":"2025-05-07","s":"SMA 20","p":8.8},{"d":"2025-05-09","s":"SMA 20","p":8.91},{"d":"2025-05-13","s":"SMA 20","p":9.12},{"d":"2025-05-15","s":"SMA 20","p":9.39},{"d":"2025-05-19","s":"SMA 20","p":9.62},{"d":"2025-05-21","s":"SMA 20","p":9.82},{"d":"2025-05-23","s":"SMA 20","p":9.86},{"d":"2025-05-29","s":"SMA 20","p":9.86},{"d":"2025-05-30","s":"SMA 20","p":9.82},{"d":"2025-06-03","s":"SMA 20","p":9.82},{"d":"2025-06-04","s":"SMA 20","p":9.79},{"d":"2025-06-06","s":"SMA 20","p":9.79},{"d":"2025-06-10","s":"SMA 20","p":9.85},{"d":"2025-06-12","s":"SMA 20","p":9.9},{"d":"2025-06-13","s":"SMA 20","p":9.99}
],
"drawn":[
{"d":"2024-08-19","s":"level a","p":12},{"d":"2025-01-21","s":"level a","p":12},
{"d":"2025-01-21","s":"level b","p":12},{"d":"2025-06-13","s":"level b","p":12},
{"d":"2024-11-19","s":"support","p":6.76},{"d":"2025-06-13","s":"support","p":8.88},
{"d":"2025-02-03","s":"falling","p":9.14},{"d":"2025-06-13","s":"falling","p":5.97}
]
},
"encoding":{"x":{"field":"d","type":"ordinal","title":null,
"scale":{"type":"point","range":[0.3,2460.3],"padding":0},
"axis":{"values":["2024-09-03","2024-10-01","2024-11-01","2024-12-02","2025-01-02","2025-02-03","2025-03-03","2025-04-01","2025-05-01","2025-06-02"],
"labelExpr":"{'2024-09-03':'Sep','2024-10-01':'Oct','2024-11-01':'Nov','2024-12-02':'Dec','2025-01-02':'2025','2025-02-03':'Feb','2025-03-03':'Mar','2025-04-01':'Apr','2025-05-01':'May','2025-06-02':'Jun'}[datum.value]",
"domain":false,"ticks":false,"grid":true,"gridColor":"#cfcfcf","gridDash":[6,4],"gridWidth":1.5,"labelAngle":0,"labelFontSize":20.5,"labelColor":"#8a8a8a","labelPadding":17,"labelFlush":false}}},
"layer":[
{"data":{"name":"ohlc"},
"mark":{"type":"bar","size":10,"clip":true},
"encoding":{
"y":{"field":"v","type":"quantitative","title":null,"scale":{"domain":[0,90.25],"nice":false},
"axis":{"orient":"left","values":[5,10,15],"labelExpr":"datum.value+'M'","domain":false,"ticks":false,"grid":false,"labelFontSize":20.5,"labelColor":"#8a8a8a","labelPadding":5.5}},
"color":{"field":"vd","type":"nominal","legend":null,"scale":{"domain":["u","d"],"range":["#b5deaa","#f5bfbf"]}}}},
{"resolve":{"scale":{"y":"shared"},"axis":{"y":"independent"}},
"layer":[
{"data":{"name":"ohlc"},"mark":{"type":"rule","color":"black","strokeWidth":1.6},
"encoding":{"y":{"field":"l","type":"quantitative","title":null,"scale":{"domain":[5.8727,19],"nice":false},
"axis":{"orient":"right","values":[6,8,10,12,14,16,18],"format":".2f","domain":false,"ticks":false,"grid":true,"gridColor":"#cfcfcf","gridDash":[5,4],"gridWidth":1.5,"gridOpacity":{"expr":"datum.value==6?0:1"},"labelFontSize":20.5,"labelColor":"#8a8a8a","labelPadding":16.5}},
"y2":{"field":"h"}}},
{"data":{"values":[{"d":"2024-08-19","p":19.4,"p2":4.9}]},"mark":{"type":"rule","color":"#e0e0ea","strokeWidth":2.5,"xOffset":-71.8},
"encoding":{"y":{"field":"p","type":"quantitative","axis":null},"y2":{"field":"p2"}}},
{"data":{"name":"ohlc"},"mark":{"type":"bar","size":8,"stroke":"black","strokeWidth":1.7,"clip":true},
"encoding":{"y":{"field":"o","type":"quantitative","axis":null},"y2":{"field":"c"},
"fill":{"condition":{"test":"datum.c>=datum.o","value":"#6cff3c"},"value":"#ee3322"}}},
{"data":{"name":"sma"},"mark":{"type":"line","strokeWidth":2},
"encoding":{"y":{"field":"p","type":"quantitative","axis":null},
"stroke":{"field":"s","type":"nominal","legend":null,"scale":{"domain":["SMA 20","SMA 50","SMA 200","level a","level b","support","falling"],"range":["#e8aadc","#f4a968","#f0dda8","#7b80c8","#a63fbe","#3f96dc","#3f96dc"]}}}},
{"data":{"name":"drawn"},"mark":{"type":"line","strokeWidth":2},
"encoding":{"y":{"field":"p","type":"quantitative","axis":null},
"stroke":{"field":"s","type":"nominal","legend":null}}},
{"data":{"values":[{"d":"2024-08-19","d2":"2024-10-23","p":19,"p2":18.45},{"d":"2024-08-19","d2":"2024-08-30","p":18.45,"p2":17.1},{"d":"2024-08-19","d2":"2024-09-03","p":17.1,"p2":16.51}]},
"mark":{"type":"rect","fill":"white","opacity":0.8},
"encoding":{"x2":{"field":"d2"},"y":{"field":"p","type":"quantitative","axis":null},"y2":{"field":"p2"}}},
{"data":{"values":[{"d":"2024-11-06","p":6.33},{"d":"2025-02-06","p":6.33},{"d":"2025-05-20","p":6.33}]},
"mark":{"type":"point","shape":"M-0.85,-1.1 H0.85 Q1,-1.1 1,-0.95 V0.7 L0,1.1 L-1,0.7 V-0.95 Q-1,-1.1 -0.85,-1.1 Z","size":1089,"filled":true,"fill":"#faefef","stroke":"#e05555","strokeWidth":3.5,"opacity":1},
"encoding":{"y":{"field":"p","type":"quantitative","axis":null}}},
{"data":{"values":[{"d":"2024-11-06","p":6.33,"t":"E"},{"d":"2025-02-06","p":6.33,"t":"E"},{"d":"2025-05-20","p":6.33,"t":"E"}]},
"mark":{"type":"text","align":"center","fontSize":22,"color":"#c83a3a"},
"encoding":{"y":{"field":"p","type":"quantitative","axis":null},"text":{"field":"t"}}},
{"data":{"values":[{"d":"2025-06-13","p":13.04}]},
"mark":{"type":"point","shape":"M-1,-0.4 H1 V0.4 H-1 Z","size":3600,"filled":true,"color":"#fff04d","opacity":1,"xOffset":47,"yOffset":-3.5},
"encoding":{"y":{"field":"p","type":"quantitative","axis":null}}},
{"data":{"values":[{"d":"2025-06-13","p":13.04,"t":"13.04"}]},
"mark":{"type":"text","dx":22,"dy":-1,"fontSize":20.5,"fontWeight":"bold","color":"#222222"},
"encoding":{"y":{"field":"p","type":"quantitative","axis":null},"text":{"field":"t"}}},
{"data":{"values":[{"d":"2024-08-19","p":18.74,"t":"Jun 13"}]},"mark":{"type":"text","dx":-44.5,"color":"#a3a6b8"},"encoding":{"y":{"field":"p","type":"quantitative","axis":null},"text":{"field":"t"}}},
{"data":{"values":[{"d":"2024-08-19","p":18.74,"t":"O"}]},"mark":{"type":"text","dx":51.5,"color":"#a3a6b8"},"encoding":{"y":{"field":"p","type":"quantitative","axis":null},"text":{"field":"t"}}},
{"data":{"values":[{"d":"2024-08-19","p":18.74,"t":"11.50"}]},"mark":{"type":"text","dx":72.9,"color":"#43a356"},"encoding":{"y":{"field":"p","type":"quantitative","axis":null},"text":{"field":"t"}}},
{"data":{"values":[{"d":"2024-08-19","p":18.74,"t":"H"}]},"mark":{"type":"text","dx":153.9,"color":"#a3a6b8"},"encoding":{"y":{"field":"p","type":"quantitative","axis":null},"text":{"field":"t"}}},
{"data":{"values":[{"d":"2024-08-19","p":18.74,"t":"13.16"}]},"mark":{"type":"text","dx":172.9,"color":"#43a356"},"encoding":{"y":{"field":"p","type":"quantitative","axis":null},"text":{"field":"t"}}},
{"data":{"values":[{"d":"2024-08-19","p":18.74,"t":"L"}]},"mark":{"type":"text","dx":255.5,"color":"#a3a6b8"},"encoding":{"y":{"field":"p","type":"quantitative","axis":null},"text":{"field":"t"}}},
{"data":{"values":[{"d":"2024-08-19","p":18.74,"t":"11.44"}]},"mark":{"type":"text","dx":270.5,"color":"#43a356"},"encoding":{"y":{"field":"p","type":"quantitative","axis":null},"text":{"field":"t"}}},
{"data":{"values":[{"d":"2024-08-19","p":18.74,"t":"C"}]},"mark":{"type":"text","dx":352.2,"color":"#a3a6b8"},"encoding":{"y":{"field":"p","type":"quantitative","axis":null},"text":{"field":"t"}}},
{"data":{"values":[{"d":"2024-08-19","p":18.74,"t":"13.04"}]},"mark":{"type":"text","dx":370.5,"color":"#43a356"},"encoding":{"y":{"field":"p","type":"quantitative","axis":null},"text":{"field":"t"}}},
{"data":{"values":[{"d":"2024-08-19","p":18.74,"t":"Vol"}]},"mark":{"type":"text","dx":453.2,"color":"#a3a6b8"},"encoding":{"y":{"field":"p","type":"quantitative","axis":null},"text":{"field":"t"}}},
{"data":{"values":[{"d":"2024-08-19","p":18.74,"t":"7.03M"}]},"mark":{"type":"text","dx":486.5,"color":"#43a356"},"encoding":{"y":{"field":"p","type":"quantitative","axis":null},"text":{"field":"t"}}},
{"data":{"values":[{"d":"2024-08-19","p":18.08,"t":"SMA 20"}]},"mark":{"type":"text","dx":-44.5,"color":"#e8aadc"},"encoding":{"y":{"field":"p","type":"quantitative","axis":null},"text":{"field":"t"}}},
{"data":{"values":[{"d":"2024-08-19","p":18.08,"t":"·"}]},"mark":{"type":"text","dx":41,"color":"#a3a6b8"},"encoding":{"y":{"field":"p","type":"quantitative","axis":null},"text":{"field":"t"}}},
{"data":{"values":[{"d":"2024-08-19","p":18.08,"t":"9.99"}]},"mark":{"type":"text","dx":55.5,"color":"#e8aadc"},"encoding":{"y":{"field":"p","type":"quantitative","axis":null},"text":{"field":"t"}}},
{"data":{"values":[{"d":"2024-08-19","p":17.42,"t":"SMA 50"}]},"mark":{"type":"text","dx":-44.5,"color":"#f4a968"},"encoding":{"y":{"field":"p","type":"quantitative","axis":null},"text":{"field":"t"}}},
{"data":{"values":[{"d":"2024-08-19","p":17.42,"t":"·"}]},"mark":{"type":"text","dx":41,"color":"#a3a6b8"},"encoding":{"y":{"field":"p","type":"quantitative","axis":null},"text":{"field":"t"}}},
{"data":{"values":[{"d":"2024-08-19","p":17.42,"t":"9.43"}]},"mark":{"type":"text","dx":55.5,"color":"#f4a968"},"encoding":{"y":{"field":"p","type":"quantitative","axis":null},"text":{"field":"t"}}},
{"data":{"values":[{"d":"2024-08-19","p":16.77,"t":"SMA 200"}]},"mark":{"type":"text","dx":-44.5,"color":"#f0dda8"},"encoding":{"y":{"field":"p","type":"quantitative","axis":null},"text":{"field":"t"}}},
{"data":{"values":[{"d":"2024-08-19","p":16.77,"t":"·"}]},"mark":{"type":"text","dx":53,"color":"#a3a6b8"},"encoding":{"y":{"field":"p","type":"quantitative","axis":null},"text":{"field":"t"}}},
{"data":{"values":[{"d":"2024-08-19","p":16.77,"t":"10.13"}]},"mark":{"type":"text","dx":70.5,"color":"#f0dda8"},"encoding":{"y":{"field":"p","type":"quantitative","axis":null},"text":{"field":"t"}}}
]}
],
"resolve":{"scale":{"y":"independent"},"axis":{"y":"independent"}}
}
